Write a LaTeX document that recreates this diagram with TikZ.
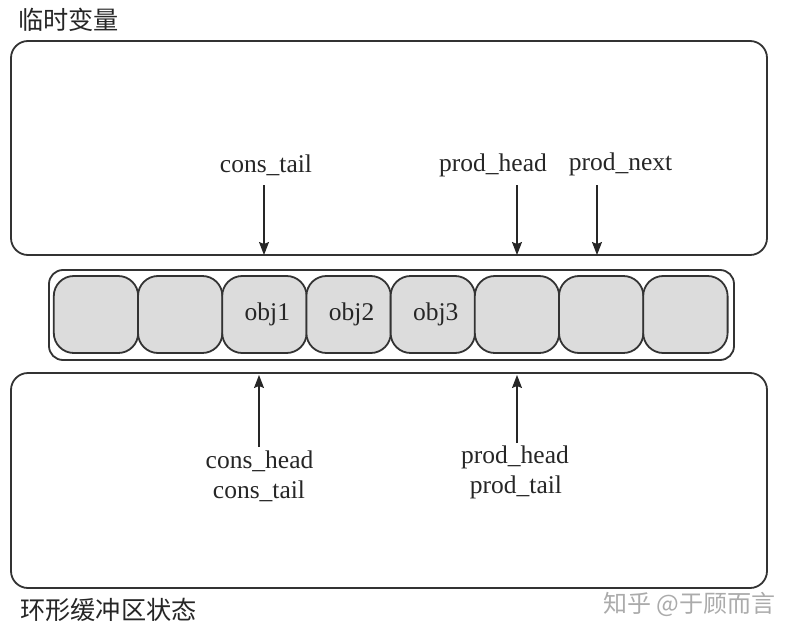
\documentclass[tikz,border=0pt]{standalone}
\usepackage{fontspec}
\setmainfont{Liberation Serif}
\newfontfamily\cjk{Noto Sans CJK SC}
\usetikzlibrary{arrows.meta}
\definecolor{linegray}{HTML}{333333}
\definecolor{cellgray}{HTML}{DCDCDC}
\definecolor{markgray}{HTML}{ABABAB}
\begin{document}
\begin{tikzpicture}[x=1pt, y=-1pt,
    zone/.style={draw=linegray,line width=1.8pt,rounded corners=17pt,inner sep=0pt,outer sep=0pt,minimum width=756pt},
    cell/.style={draw=linegray,line width=1.8pt,fill=cellgray,rounded corners=20pt,minimum width=84.4pt,minimum height=77pt,outer sep=0pt},
    lbl/.style={inner sep=0pt,text=black!85,font=\fontsize{25.5}{25.5}\selectfont},
    title/.style={inner sep=0pt,anchor=west,text=black!85,font=\cjk\fontsize{25.2}{25.2}\selectfont},
    ptr/.style={line width=1.2pt,draw=black!85,-{Stealth[length=13pt,width=10pt,inset=2pt]}}]
    \useasboundingbox (0,0) rectangle (793,637);
    \node[zone,minimum height=214pt] (upper) at (389,148) {};
    \node[zone,minimum height=215pt] (lower) at (389,480.5) {};
    \node[zone,rounded corners=14pt,minimum width=685pt,minimum height=90pt] (ring) at (391.5,315) {};
    % ring slots
    \foreach \i/\txt in {0/,1/,2/obj1,3/obj2,4/obj3,5/,6/,7/}
        \node[cell,lbl,draw=linegray] (slot\i) at (96+84.2*\i,314.5) {\hspace*{6pt}\txt};
    \node[title] (temp) at (18,20) {临时变量};
    \node[title] (state) at (20,610) {环形缓冲区状态};
    \node[lbl] (ctail) at (266,165) {cons\_tail};
    \node[lbl] (phead) at (493,165) {prod\_head};
    \node[lbl] (pnext) at (620.5,164) {prod\_next};
    \node[lbl] (chead2) at (259.5,461) {cons\_head};
    \node[lbl] (ctail2) at (259,491) {cons\_tail};
    \node[lbl] (phead2) at (515,457) {prod\_head};
    \node[lbl] (ptail2) at (516,487) {prod\_tail};
    \node[anchor=west,inner sep=0pt,text=markgray,font=\cjk\fontsize{24}{24}\selectfont] (mark) at (603,604) {知乎 @于顾而言};
    \coordinate (a1) at (264,185);
    \coordinate (a2) at (517,185);
    \coordinate (a3) at (597,185);
    \coordinate (b1) at (259,447);
    \coordinate (b2) at (517,443);
    \draw[ptr] (a1) -- (a1 |- upper.south);
    \draw[ptr] (a2) -- (a2 |- upper.south);
    \draw[ptr] (a3) -- (a3 |- upper.south);
    \draw[ptr,shorten >=2pt] (b1) -- (b1 |- lower.north);
    \draw[ptr,shorten >=2pt] (b2) -- (b2 |- lower.north);
\end{tikzpicture}
\end{document}
